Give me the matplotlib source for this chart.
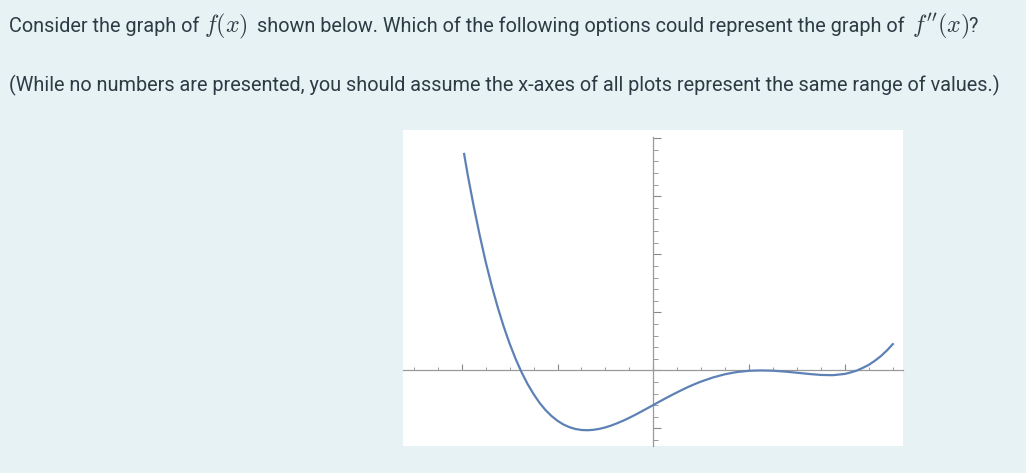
import numpy as np
import matplotlib.pyplot as plt
from matplotlib.ticker import MultipleLocator

# Colours and text
bg_color = "#E6F2F4"
text_color = "#2D3B45"
curve_color = "#5E81B5"
axis_color = "#9A9A9A"

# (text, is_math, left edge in px) for the first line
line1_parts = [
    ("Consider the graph of", False, 9),
    (r"$f(x)$", True, 204),
    ("shown below. Which of the following options could represent the graph of", False, 257),
    (r"$f^{\prime\prime}(x)$", True, 912),
    ("?", False, 968),
]
line2 = "(While no numbers are presented, you should assume the x-axes of all plots represent the same range of values.)"

x_vals = [-1.975, -1.9375, -1.875, -1.8125, -1.75, -1.6875, -1.625, -1.5625, -1.5,
          -1.4375, -1.375, -1.3125, -1.25, -1.1875, -1.125, -1.0625, -1.0, -0.9375,
          -0.875, -0.8125, -0.75, -0.6875, -0.625, -0.5625, -0.5, -0.4375, -0.375,
          -0.3125, -0.25, -0.1875, -0.125, -0.0625, 0.0, 0.0625, 0.125, 0.1875, 0.25,
          0.3125, 0.375, 0.4375, 0.5, 0.625, 0.75, 0.875, 1.0, 1.125, 1.25,
          1.375, 1.5, 1.625, 1.75, 1.875, 2.0, 2.0625, 2.125, 2.1875, 2.25,
          2.3125, 2.375, 2.4375, 2.5]
y_vals = [3.73, 3.37, 2.83, 2.33, 1.87, 1.46, 1.09, 0.757, 0.46,
          0.197, -0.035, -0.237, -0.41, -0.561, -0.686, -0.788, -0.871, -0.935,
          -0.981, -1.012, -1.029, -1.033, -1.026, -1.009, -0.984, -0.951, -0.911,
          -0.867, -0.818, -0.766, -0.711, -0.655, -0.598, -0.541, -0.485, -0.431, -0.378,
          -0.327, -0.279, -0.234, -0.193, -0.122, -0.067, -0.029, -0.008, -0.002, -0.007,
          -0.022, -0.042, -0.063, -0.08, -0.084, -0.062, -0.036, -0.004, 0.043, 0.095,
          0.165, 0.245, 0.341, 0.452]

plt.rcParams['font.family'] = ['Roboto', 'DejaVu Sans']
plt.rcParams['mathtext.fontset'] = 'cm'

W, H = 1026, 473
fig = plt.figure(figsize=(W / 100, H / 100), dpi=100)
fig.patch.set_facecolor(bg_color)

for txt, is_math, left in line1_parts:
    fig.text(left / W, 1 - 32 / H, txt, fontsize=17.3 if is_math else 14.3,
             color=text_color, va='baseline', ha='left')
fig.text(9 / W, 1 - 91 / H, line2, fontsize=14.3, color=text_color, va='baseline', ha='left')

ax = fig.add_axes([403 / W, 1 - 446 / H, 500 / W, 316 / H])
ax.set_facecolor("white")
ax.set_xlim(-2.613, 2.606)
ax.set_ylim(-1.305, 4.143)

ax.plot(x_vals, y_vals, color=curve_color, lw=1.6, solid_joinstyle='round', zorder=3)

# Mathematica-style axes through the origin
for side in ['top', 'right']:
    ax.spines[side].set_visible(False)
ax.spines['left'].set_position(('data', 0))
ax.spines['bottom'].set_position(('data', 0))
ax.spines['left'].set_bounds(-1.305, 4.02)
for side in ['left', 'bottom']:
    ax.spines[side].set_color(axis_color)
    ax.spines[side].set_linewidth(0.9)

ax.xaxis.set_major_locator(MultipleLocator(1))
ax.xaxis.set_minor_locator(MultipleLocator(0.25))
ax.yaxis.set_major_locator(MultipleLocator(1))
ax.yaxis.set_minor_locator(MultipleLocator(0.2))
ax.tick_params(axis='x', which='major', direction='in', length=4, width=0.8, color='#888888')
ax.tick_params(axis='x', which='minor', direction='in', length=2.4, width=0.7, color='#999999')
ax.tick_params(axis='y', which='major', direction='in', length=5.5, width=0.8, color='#888888')
ax.tick_params(axis='y', which='minor', direction='in', length=3.6, width=0.7, color='#999999')
ax.tick_params(which='both', labelbottom=False, labelleft=False)

fig.savefig("out.png", dpi=100, facecolor=bg_color)
